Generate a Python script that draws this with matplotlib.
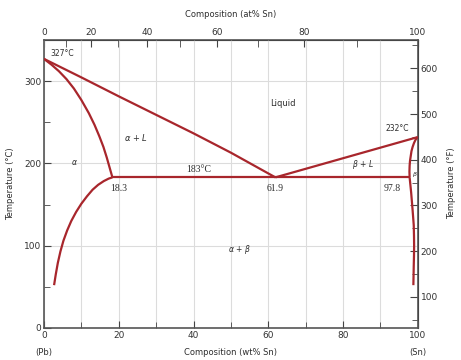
import numpy as np
import matplotlib
matplotlib.use("Agg")
import matplotlib.pyplot as plt

# Pb-Sn phase diagram, composition in wt% Sn, temperature in degC
liq_left_wt = [0, 10, 20, 30, 40, 50, 61.9]
liq_left_T = [327, 304.5, 281.5, 259, 236.5, 213, 183]

liq_right_wt = [61.9, 100]
liq_right_T = [183, 232]

sol_a_wt = [0, 2, 4, 6, 8, 10, 12, 13.5, 14.8, 15.9, 16.8, 17.55, 18.3]
sol_a_T = [327, 320, 312, 302.5, 291, 277, 261, 247, 233, 220, 207, 195, 183]

solvus_a_wt = [18.3, 17.3, 16.0, 14.5, 13.0, 11.5, 10.0, 8.6, 7.3, 6.2, 5.2,
               4.4, 3.7, 3.15, 2.7]
solvus_a_T = [183, 181.5, 178.5, 174, 168, 160, 151, 141, 130, 118.5, 106,
              93, 79, 65, 52]

sol_b_wt = [97.8, 97.75, 97.8, 97.9, 98.1, 98.3, 98.6, 98.95, 99.3, 99.65, 100]
sol_b_T = [183, 190, 197, 203, 209, 215, 220, 224.5, 228, 230.5, 232]

solvus_b_wt = [97.8, 98.0, 98.2, 98.4, 98.6, 98.75, 98.9, 98.97, 99.0, 98.97,
               98.9, 98.85, 98.8]
solvus_b_T = [183, 174, 165, 154, 143, 134, 125, 112, 100, 88, 75, 63, 52]

eutectic_wt = [18.3, 97.8]
eutectic_T = [183, 183]

M_SN = 118.71
M_PB = 207.2


def wt_to_at(w):
    w = np.asarray(w, dtype=float)
    a = w / M_SN
    b = (100 - w) / M_PB
    return 100 * a / (a + b)


def at_to_wt(x):
    x = np.asarray(x, dtype=float)
    a = x * M_SN
    b = (100 - x) * M_PB
    return 100 * a / (a + b)


red = "#a8262c"
txt = "#2e2e2e"

fig = plt.figure(figsize=(4.61, 3.6), dpi=100)
ax = fig.add_axes([0.0954, 0.089, 0.811, 0.80])

for xs, ys in [(liq_left_wt, liq_left_T), (liq_right_wt, liq_right_T),
               (sol_a_wt, sol_a_T), (solvus_a_wt, solvus_a_T),
               (sol_b_wt, sol_b_T), (solvus_b_wt, solvus_b_T),
               (eutectic_wt, eutectic_T)]:
    ax.plot(xs, ys, color=red, lw=1.6, solid_capstyle="butt",
            solid_joinstyle="round", zorder=3)

ax.set_xlim(0, 100)
ax.set_ylim(0, 350)
ax.set_xticks(np.arange(0, 101, 20))
ax.set_xticks(np.arange(10, 100, 20), minor=True)
ax.set_yticks([0, 100, 200, 300])
ax.set_yticks([50, 150, 250], minor=True)
ax.grid(True, which="both", axis="x", color="#dcdcdc", lw=0.8, zorder=0)
ax.grid(True, which="major", axis="y", color="#dcdcdc", lw=0.8, zorder=0)
ax.tick_params(which="both", direction="in", colors="#444", labelsize=6.5,
               labelcolor="#333", pad=2)
ax.tick_params(which="major", length=5)
ax.tick_params(which="minor", length=4)
for s in ax.spines.values():
    s.set_color("#555")
    s.set_linewidth(1.2)

top = ax.secondary_xaxis("top", functions=(wt_to_at, at_to_wt))
top.set_xticks(np.arange(0, 101, 20))
top.set_xticks(np.arange(10, 100, 20), minor=True)
top.tick_params(which="both", direction="in", colors="#444", labelsize=6.5,
                labelcolor="#333", pad=2)
top.tick_params(which="major", length=5)
top.tick_params(which="minor", length=5)

right = ax.secondary_yaxis("right", functions=(lambda c: c * 9 / 5 + 32,
                                               lambda f: (f - 32) * 5 / 9))
right.set_yticks(np.arange(100, 601, 100))
right.set_yticks(np.arange(50, 651, 100), minor=True)
right.tick_params(which="both", direction="in", colors="#444", labelsize=6.5,
                  labelcolor="#333", pad=2)
right.tick_params(which="major", length=6)
right.tick_params(which="minor", length=4)

# region and point labels
ax.text(1.6, 333, "327°C", fontsize=5.5, color=txt, ha="left", va="center")
ax.text(64, 273, "Liquid", fontsize=6, color=txt, ha="center", va="center")
ax.text(24.5, 232, r"$\alpha$ + $L$", fontsize=6, color=txt,
        ha="center", va="center")
ax.text(8.1, 201, r"$\alpha$", fontsize=5.5, color=txt, ha="center", va="center")
ax.text(41.5, 192, "183°C", fontsize=7, color=txt, ha="center", va="center",
        family="Liberation Serif")
ax.text(20, 170, "18.3", fontsize=7, color=txt, ha="center", va="center",
        family="Liberation Serif")
ax.text(61.9, 170, "61.9", fontsize=7, color=txt, ha="center", va="center",
        family="Liberation Serif")
ax.text(93.2, 170, "97.8", fontsize=7, color=txt, ha="center", va="center",
        family="Liberation Serif")
ax.text(94.4, 242, "232°C", fontsize=5.5, color=txt, ha="center", va="center")
ax.text(85.3, 199, r"$\beta$ + $L$", fontsize=5.5, color=txt,
        ha="center", va="center")
ax.text(99.2, 186, r"$\beta$", fontsize=4.5, color=txt, ha="center", va="center")
ax.text(52.2, 95, r"$\alpha$ + $\beta$", fontsize=5.5, color=txt,
        ha="center", va="center")

fig.text(0.5, 0.961, "Composition (at% Sn)", fontsize=6, color=txt,
         ha="center", va="center")
fig.text(0.5, 0.022, "Composition (wt% Sn)", fontsize=6, color=txt,
         ha="center", va="center")
fig.text(0.0954, 0.022, "(Pb)", fontsize=6, color=txt, ha="center", va="center")
fig.text(0.907, 0.022, "(Sn)", fontsize=6, color=txt, ha="center", va="center")
fig.text(0.022, 0.49, "Temperature (°C)", fontsize=6, color=txt,
         rotation=90, ha="center", va="center")
fig.text(0.98, 0.49, "Temperature (°F)", fontsize=6, color=txt,
         rotation=90, ha="center", va="center")

fig.savefig("out.png", dpi=100)
